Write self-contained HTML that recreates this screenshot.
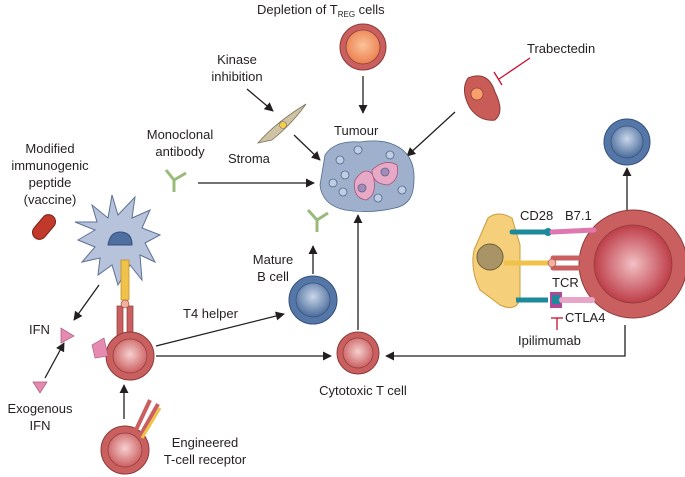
<!DOCTYPE html>
<html><head><meta charset="utf-8"><style>
html,body{margin:0;padding:0;background:#fff;}
svg{display:block;font-family:"Liberation Sans",sans-serif;}
text{font-size:13px;fill:#231f20;}
</style></head><body>
<svg width="685" height="477" viewBox="0 0 685 477" xmlns="http://www.w3.org/2000/svg">
<defs>
<marker id="a" viewBox="0 0 10 10" refX="9" refY="5" markerWidth="7" markerHeight="7" orient="auto"><path d="M0,0L10,5L0,10z" fill="#231f20"/></marker>
<radialGradient id="redi" cx="50%" cy="45%" r="60%"><stop offset="0" stop-color="#f6d0d0"/><stop offset="1" stop-color="#c85556"/></radialGradient>
<radialGradient id="big" cx="50%" cy="50%" r="55%"><stop offset="0" stop-color="#f2c0c4"/><stop offset="1" stop-color="#b8303c"/></radialGradient>
<radialGradient id="blue" cx="50%" cy="40%" r="60%"><stop offset="0" stop-color="#c9d6ea"/><stop offset="1" stop-color="#4a6b9a"/></radialGradient>
<radialGradient id="org" cx="50%" cy="45%" r="60%"><stop offset="0" stop-color="#fbc39a"/><stop offset="1" stop-color="#ea7a48"/></radialGradient>
</defs>
<g stroke="#231f20" stroke-width="1.3" fill="none" marker-end="url(#a)">
<line x1="363" y1="76" x2="363" y2="113"/>
<line x1="455" y1="112" x2="407" y2="156"/>
<line x1="247" y1="89" x2="273" y2="111"/>
<line x1="294" y1="135" x2="320" y2="160"/>
<line x1="198" y1="183" x2="314" y2="183"/>
<line x1="313" y1="274" x2="313" y2="246"/>
<line x1="358" y1="330" x2="358" y2="215"/>
<line x1="99" y1="285" x2="74" y2="320"/>
<line x1="45" y1="378" x2="64" y2="343"/>
<line x1="124" y1="419" x2="124" y2="385"/>
<line x1="156" y1="346" x2="284" y2="314"/>
<line x1="156" y1="356" x2="331" y2="356"/>
<polyline points="625,325 625,356 386,356"/>
<line x1="627" y1="210" x2="627" y2="168"/>
</g>
<g stroke="#c8102e" stroke-width="1.3">
<line x1="530" y1="58" x2="499" y2="79"/><line x1="494" y1="72" x2="502" y2="85"/>
<line x1="557" y1="318" x2="557" y2="330"/><line x1="551" y1="318" x2="563" y2="318"/>
</g>
<circle cx="363" cy="47" r="23" fill="#c9605f" stroke="#8c3a3a"/>
<circle cx="363" cy="47" r="17" fill="url(#org)" stroke="#8c3a3a" stroke-width=".8"/>
<path d="M468,78 Q488,70 495,92 Q505,112 495,120 Q480,122 470,108 Q460,90 468,78z" fill="#c95c56" stroke="#8c3a3a"/>
<circle cx="477" cy="94" r="6" fill="#f9a06a" stroke="#8c3a3a" stroke-width=".7"/>
<path d="M258,143 Q275,123 306,104 Q292,124 272,140z" fill="#cfc3a6" stroke="#7d7058" stroke-width=".8"/>
<circle cx="283" cy="125" r="3.5" fill="#f6cf4a" stroke="#7d7058" stroke-width=".6"/>
<g stroke="#4f6a90" stroke-width=".8">
<path d="M325,155 Q335,140 360,142 Q385,138 400,148 Q418,160 413,190 Q410,205 395,208 Q370,214 345,210 Q322,205 320,185z" fill="#9fb0cc"/>
<circle cx="340" cy="160" r="4" fill="#c1cde2"/><circle cx="358" cy="150" r="4" fill="#c1cde2"/><circle cx="390" cy="155" r="4" fill="#c1cde2"/>
<circle cx="333" cy="183" r="4" fill="#c1cde2"/><circle cx="345" cy="175" r="4" fill="#c1cde2"/><circle cx="402" cy="190" r="4" fill="#c1cde2"/>
<circle cx="343" cy="192" r="4" fill="#c1cde2"/><circle cx="378" cy="198" r="4" fill="#c1cde2"/>
<path d="M355,180 Q365,165 373,175 Q378,195 366,200 Q352,198 355,180z" fill="#e8a9c6" stroke="#a5557c"/>
<circle cx="362" cy="188" r="4" fill="#a78ab5"/>
<path d="M372,170 Q385,158 397,165 Q400,180 388,185 Q372,184 372,170z" fill="#e8a9c6" stroke="#a5557c"/>
<circle cx="385" cy="172" r="4" fill="#a78ab5"/>
</g>
<g stroke-width="3" fill="none">
<path d="M166,170 L174,180 L174,192 M174,180 L186,173" stroke="#9aba7a"/>
<path d="M317,232 L317,220 L308,210 M317,220 L328,213" stroke="#9aba7a"/>
</g>
<rect x="37" y="213" width="14" height="28" rx="7" fill="#c0392b" stroke="#7a1f17" transform="rotate(40 44 227)"/>
<path d="M95,230 L75,222 L97,222 L92,205 L108,218 L112,195 L118,215 L135,197 L132,218 L150,210 L142,228 L160,235 L145,243 L155,262 L140,255 L142,280 L130,265 L118,285 L112,265 L98,275 L100,258 L82,262 L95,247 L78,240z" fill="#b7c3da" stroke="#5d7197"/>
<path d="M108,245 Q110,232 120,232 Q132,232 132,245z" fill="#4f6fa0" stroke="#34507c"/>
<rect x="121" y="260" width="8" height="40" fill="#f1c24a" stroke="#b98b1a" stroke-width=".7"/>
<rect x="117" y="306" width="6" height="32" fill="#c9605f" stroke="#8c3a3a" stroke-width=".7"/>
<rect x="127" y="306" width="6" height="32" fill="#c9605f" stroke="#8c3a3a" stroke-width=".7"/>
<circle cx="125" cy="304" r="4" fill="#f3b09b" stroke="#8c3a3a" stroke-width=".6"/>
<circle cx="130" cy="356" r="24" fill="#c9605f" stroke="#8c3a3a"/><circle cx="130" cy="356" r="17" fill="url(#redi)" stroke="#8c3a3a" stroke-width=".7"/>
<path d="M92,345 L104,338 L108,356 L95,358z" fill="#e78ab0" stroke="#a5557c" stroke-width=".6"/>
<circle cx="125" cy="450" r="24" fill="#c9605f" stroke="#8c3a3a"/><circle cx="125" cy="450" r="17" fill="url(#redi)" stroke="#8c3a3a" stroke-width=".7"/>
<path d="M135,432 L150,400 M140,436 L158,404" stroke="#c9605f" stroke-width="4"/>
<path d="M142,438 L160,408" stroke="#f1c24a" stroke-width="3"/>
<circle cx="358" cy="353" r="21" fill="#c9605f" stroke="#8c3a3a"/><circle cx="358" cy="353" r="15" fill="url(#redi)" stroke="#8c3a3a" stroke-width=".7"/>
<circle cx="313" cy="300" r="24" fill="#5477a7" stroke="#34507c"/><circle cx="313" cy="300" r="17" fill="url(#blue)" stroke="#34507c" stroke-width=".7"/>
<circle cx="627" cy="142" r="23" fill="#5477a7" stroke="#34507c"/><circle cx="627" cy="142" r="16" fill="url(#blue)" stroke="#34507c" stroke-width=".7"/>
<path d="M61,328 L74,336 L61,343z" fill="#e78ab0" stroke="#a5557c" stroke-width=".7"/>
<path d="M33,382 L47,382 L40,393z" fill="#e78ab0" stroke="#a5557c" stroke-width=".7"/>
<path d="M488,218 Q498,210 512,218 L520,245 L520,300 Q515,312 500,305 L480,290 Q470,270 474,250z" fill="#f6cf7a" stroke="#c99d3a"/>
<circle cx="490" cy="257" r="13" fill="#a89467" stroke="#6f5e38"/>
<circle cx="633" cy="264" r="54" fill="#c9605f" stroke="#8c3a3a"/>
<circle cx="633" cy="264" r="39" fill="url(#big)" stroke="#8c3a3a" stroke-width=".7"/>
<path d="M512,232 L545,232" stroke="#1d8a9c" stroke-width="5" stroke-linecap="round"/>
<circle cx="548" cy="232" r="4" fill="#1d8a9c"/>
<path d="M552,232 L594,230" stroke="#e078b0" stroke-width="5" stroke-linecap="round"/>
<path d="M504,263 L548,263" stroke="#f1c24a" stroke-width="5"/>
<path d="M553,258 L586,258 M553,268 L586,268" stroke="#c9605f" stroke-width="5" stroke-linecap="round"/>
<circle cx="552" cy="263" r="4" fill="#f3b09b" stroke="#8c3a3a" stroke-width=".6"/>
<path d="M516,300 L548,300" stroke="#1d8a9c" stroke-width="5"/>
<rect x="550" y="292" width="12" height="16" fill="#b04a98"/>
<rect x="552" y="295" width="8" height="9" fill="#1d8a9c"/>
<path d="M562,300 L592,300" stroke="#e9a5c8" stroke-width="6" stroke-linecap="round"/>
<text x="257" y="14">Depletion of T<tspan font-size="8" dy="3">REG</tspan><tspan dy="-3"> cells</tspan></text>
<text x="527" y="53">Trabectedin</text>
<text x="237" y="64" text-anchor="middle">Kinase</text>
<text x="237" y="81" text-anchor="middle">inhibition</text>
<text x="228" y="163">Stroma</text>
<text x="334" y="135">Tumour</text>
<text x="180" y="139" text-anchor="middle">Monoclonal</text>
<text x="180" y="156" text-anchor="middle">antibody</text>
<text x="50" y="153" text-anchor="middle">Modified</text>
<text x="50" y="170" text-anchor="middle">immunogenic</text>
<text x="50" y="187" text-anchor="middle">peptide</text>
<text x="50" y="204" text-anchor="middle">(vaccine)</text>
<text x="273" y="264" text-anchor="middle">Mature</text>
<text x="273" y="281" text-anchor="middle">B cell</text>
<text x="183" y="318">T4 helper</text>
<text x="29" y="334">IFN</text>
<text x="40" y="413" text-anchor="middle">Exogenous</text>
<text x="40" y="430" text-anchor="middle">IFN</text>
<text x="205" y="447" text-anchor="middle">Engineered</text>
<text x="205" y="464" text-anchor="middle">T-cell receptor</text>
<text x="363" y="395" text-anchor="middle">Cytotoxic T cell</text>
<text x="520" y="220" font-size="12">CD28</text>
<text x="565" y="220" font-size="12">B7.1</text>
<text x="552" y="287" font-size="12">TCR</text>
<text x="565" y="322" font-size="12">CTLA4</text>
<text x="518" y="345">Ipilimumab</text>
</svg>
</body></html>
